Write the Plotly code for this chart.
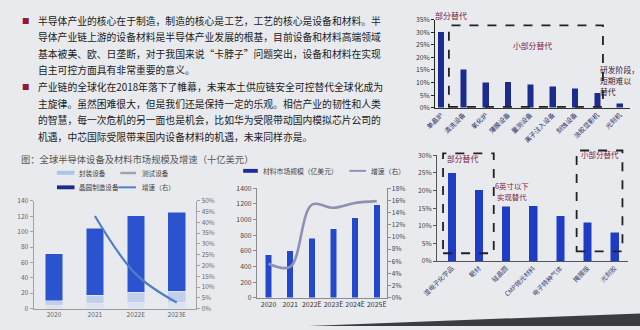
import plotly.graph_objects as go

W, H = 640, 330
def X(p): return p / W
def Y(p): return 1 - p / H

# ---------------- data ----------------
tr_cats = ["单晶炉", "清洗设备", "氧化炉", "薄膜设备", "量测设备", "离子注入设备", "刻蚀设备", "涂胶显影机", "光刻机"]
tr_vals = [0.302, 0.152, 0.102, 0.103, 0.094, 0.086, 0.078, 0.059, 0.018]

br_cats = ["湿电子化学品", "靶材", "硅晶圆", "CMP抛光材料", "电子特种气体", "掩膜版", "光刻胶"]
br_vals = [0.251, 0.203, 0.155, 0.157, 0.128, 0.110, 0.081]

eq_years = ["2020", "2021", "2022E", "2023E"]
eq_pack = [4.0, 7.0, 8.0, 8.5]
eq_test = [6.0, 10.5, 13.0, 14.0]
eq_wafer = [61.5, 87.0, 100.0, 103.0]
eq_growth = [None, 0.43, 0.16, 0.028]

mat_years = ["2020", "2021", "2022E", "2023E", "2024E", "2025E"]
mat_size = [552, 602, 764, 885, 1022, 1188]
mat_growth = [0.056, 0.051, 0.153, 0.148, 0.156, 0.159]

bullet1 = [
    "半导体产业的核心在于制造，制造的核心是工艺，工艺的核心是设备和材料。半",
    "导体产业链上游的设备材料是半导体产业发展的根基，目前设备和材料高端领域",
    "基本被美、欧、日垄断，对于我国来说“卡脖子”问题突出，设备和材料在实现",
    "自主可控方面具有非常重要的意义。",
]
bullet2 = [
    "产业链的全球化在2018年落下了帷幕，未来本土供应链安全可控替代全球化成为",
    "主旋律。虽然困难很大，但是我们还是保持一定的乐观。相信产业的韧性和人类",
    "的智慧，每一次危机的另一面也是机会，比如华为受限带动国内模拟芯片公司的",
    "机遇，中芯国际受限带来国内设备材料的机遇，未来同样亦是。",
]
chart_title = "图：全球半导体设备及材料市场规模及增速（十亿美元）"

FONT = "Noto Sans CJK SC, sans-serif"
MAROON = "#7c2444"

fig = go.Figure()

# top-right: equipment localisation rate
fig.add_trace(go.Bar(x=tr_cats, y=tr_vals, marker_color="#1d2a8e", width=0.3,
                     xaxis="x", yaxis="y"))
# bottom-right: materials localisation rate
fig.add_trace(go.Bar(x=br_cats, y=br_vals, marker_color="#1f3cc4", width=0.32,
                     xaxis="x2", yaxis="y2"))
# bottom-left: equipment market
fig.add_trace(go.Bar(x=eq_years, y=eq_pack, name="封装设备", marker_color="#dbe3f1",
                     width=0.43, xaxis="x3", yaxis="y3"))
fig.add_trace(go.Bar(x=eq_years, y=eq_test, name="测试设备", marker_color="#c2cfea",
                     width=0.43, xaxis="x3", yaxis="y3"))
fig.add_trace(go.Bar(x=eq_years, y=eq_wafer, name="晶圆制造设备", marker_color="#2b52cf",
                     width=0.43, xaxis="x3", yaxis="y3"))
fig.add_trace(go.Scatter(x=eq_years, y=eq_growth, mode="lines", name="增速（右）",
                         line=dict(color="#4f7fc2", width=2.2, shape="spline"),
                         xaxis="x3", yaxis="y4"))
# bottom-middle: materials market
fig.add_trace(go.Bar(x=mat_years, y=mat_size, name="材料市场规模（亿美元）",
                     marker_color="#2448cc", width=0.3, xaxis="x4", yaxis="y5"))
fig.add_trace(go.Scatter(x=mat_years, y=mat_growth, mode="lines", name="增速（右）",
                         line=dict(color="#8d91b2", width=2.6, shape="spline"),
                         xaxis="x4", yaxis="y6"))

tickf = lambda s, c: dict(size=s, color=c, family=FONT)

fig.update_layout(
    width=W, height=H, margin=dict(l=0, r=0, t=0, b=0),
    paper_bgcolor="#e8eaee", plot_bgcolor="rgba(0,0,0,0)",
    showlegend=False, barmode="stack", font=dict(family=FONT),
    xaxis=dict(domain=[X(430), X(630)], anchor="y", type="category",
               categoryarray=tr_cats, range=[-0.26, 8.47], showline=True,
               linecolor="#333", linewidth=1, ticks="", tickangle=-45,
               tickfont=tickf(6.5, "#1e2660"), showgrid=False),
    yaxis=dict(domain=[Y(105), Y(14)], anchor="x", range=[0, 0.35], dtick=0.05,
               tickformat=".0%", showline=True, linecolor="#222", ticks="outside",
               ticklen=3, tickcolor="#222", tickfont=tickf(6.8, "#333"),
               showgrid=False, zeroline=False),
    xaxis2=dict(domain=[X(432), X(628)], anchor="y2", type="category",
                categoryarray=br_cats, range=[-0.54, 6.5], showline=True,
                linecolor="#555", ticks="", tickangle=-45,
                tickfont=tickf(6.5, "#3a3f70"), showgrid=False),
    yaxis2=dict(domain=[Y(263), Y(154)], anchor="x2", range=[0, 0.30], dtick=0.05,
                tickformat=".0%", showline=True, linecolor="#555", ticks="outside",
                ticklen=3, tickcolor="#555", tickfont=tickf(6.8, "#444"),
                showgrid=False, zeroline=False),
    xaxis3=dict(domain=[X(18), X(185)], anchor="y3", type="category",
                categoryarray=eq_years, range=[-0.5, 3.48], showline=True,
                linecolor="#9a9ca2", ticks="", tickangle=0,
                tickfont=tickf(6.6, "#666"), showgrid=False),
    yaxis3=dict(domain=[Y(312), Y(201)], anchor="x3", range=[0, 140], dtick=20,
                showline=True, linecolor="#a0a2a8", ticks="outside", ticklen=3,
                tickcolor="#a0a2a8", tickfont=tickf(6.6, "#666"), showgrid=False,
                zeroline=False),
    yaxis4=dict(overlaying="y3", anchor="x3", side="right", range=[0, 0.5],
                dtick=0.05, tickformat=".0%", showline=True, linecolor="#a0a2a8",
                ticks="outside", ticklen=3, tickcolor="#a0a2a8",
                tickfont=tickf(6.4, "#666"), showgrid=False, zeroline=False),
    xaxis4=dict(domain=[X(247), X(380)], anchor="y5", type="category",
                categoryarray=mat_years, range=[-0.54, 5.45], showline=True,
                linecolor="#8a8c92", ticks="", tickangle=0,
                tickfont=tickf(7.0, "#333"), showgrid=False),
    yaxis5=dict(domain=[Y(301), Y(188)], anchor="x4", range=[0, 1400], dtick=200,
                showline=True, linecolor="#8a8c92", ticks="outside", ticklen=3,
                tickcolor="#8a8c92", tickfont=tickf(6.8, "#444"), showgrid=False,
                zeroline=False),
    yaxis6=dict(overlaying="y5", anchor="x4", side="right", range=[0, 0.18],
                dtick=0.02, tickformat=".0%", showline=True, linecolor="#8a8c92",
                ticks="outside", ticklen=3, tickcolor="#8a8c92",
                tickfont=tickf(6.6, "#444"), showgrid=False, zeroline=False),
)

ann = []
def txt(x, y, s, size, color, xanchor="left"):
    ann.append(dict(x=X(x), y=Y(y), xref="paper", yref="paper", text=s,
                    showarrow=False, xanchor=xanchor, yanchor="middle",
                    font=dict(size=size, color=color, family=FONT)))

# text block
for i, line in enumerate(bullet1):
    txt(20, 15 + 17.1 * i, line, 9.8, "#1a1a1a")
for i, line in enumerate(bullet2):
    txt(20, 83.5 + 17.1 * i, line, 9.8, "#1a1a1a")
txt(4, 15, "■", 7.5, "#8a1c3c")
txt(4, 83.5, "■", 7.5, "#8a1c3c")

# chart title
txt(3, 158, chart_title, 9.3, "#555")

shapes = []
def rect(x0, y0, x1, y1, color, dash=None, fill=True, width=1.8):
    if fill:
        shapes.append(dict(type="rect", xref="paper", yref="paper", x0=X(x0), x1=X(x1),
                           y0=Y(y1), y1=Y(y0), fillcolor=color, line=dict(width=0)))
    else:
        shapes.append(dict(type="rect", xref="paper", yref="paper", x0=X(x0), x1=X(x1),
                           y0=Y(y1), y1=Y(y0), fillcolor="rgba(0,0,0,0)",
                           line=dict(color=color, width=width, dash=dash)))

# manual legends
rect(42, 170, 60, 174, "#a9c6ea")
txt(63, 172, "封装设备", 6.6, "#444")
rect(107, 171, 123, 173.5, "#9ea2ac")
txt(127, 172, "测试设备", 6.6, "#444")
rect(42, 185, 60, 189, "#1c2b86")
txt(63, 187, "晶圆制造设备", 6.6, "#444")
rect(105, 186, 123, 188, "#4f7fc2")
txt(127, 187, "增速（右）", 6.6, "#444")

rect(233, 168, 248, 172, "#1e2c94")
txt(251, 170, "材料市场规模（亿美元）", 6.8, "#444")
rect(342, 169, 359, 171, "#8d91b2")
txt(362, 170, "增速（右）", 6.8, "#444")

# dashed boxes
rect(444, 20, 602, 104, "#222", dash="dash", fill=False)
rect(438, 152, 490, 255, "#222", dash="dash", fill=False)
rect(575, 149, 622, 253, "#222", dash="dash", fill=False)

# chart notes
txt(428, 10, "部分替代", 8.0, MAROON)
txt(508, 41, "小部分替代", 7.8, MAROON)
txt(597, 66, "研发阶段，", 7.8, "#3a2232")
txt(597, 77, "短期难以", 7.8, "#3a2232")
txt(597, 88, "替代", 7.8, "#3a2232")
txt(440, 157, "部分替代", 7.8, MAROON)
txt(577, 153, "小部分替代", 7.5, MAROON)
txt(489, 185, "6英寸以下", 7.4, MAROON)
txt(491, 196, "实现替代", 7.4, MAROON)

# dark monitor edge at the bottom right
shapes.append(dict(type="path", xref="paper", yref="paper",
                   path=f"M {X(300)},{Y(330)} L {X(640)},{Y(317)} L {X(640)},{Y(330)} Z",
                   fillcolor="#3a3c42", line=dict(width=0)))

fig.update_layout(annotations=ann, shapes=shapes)
fig.write_html("out.html")
